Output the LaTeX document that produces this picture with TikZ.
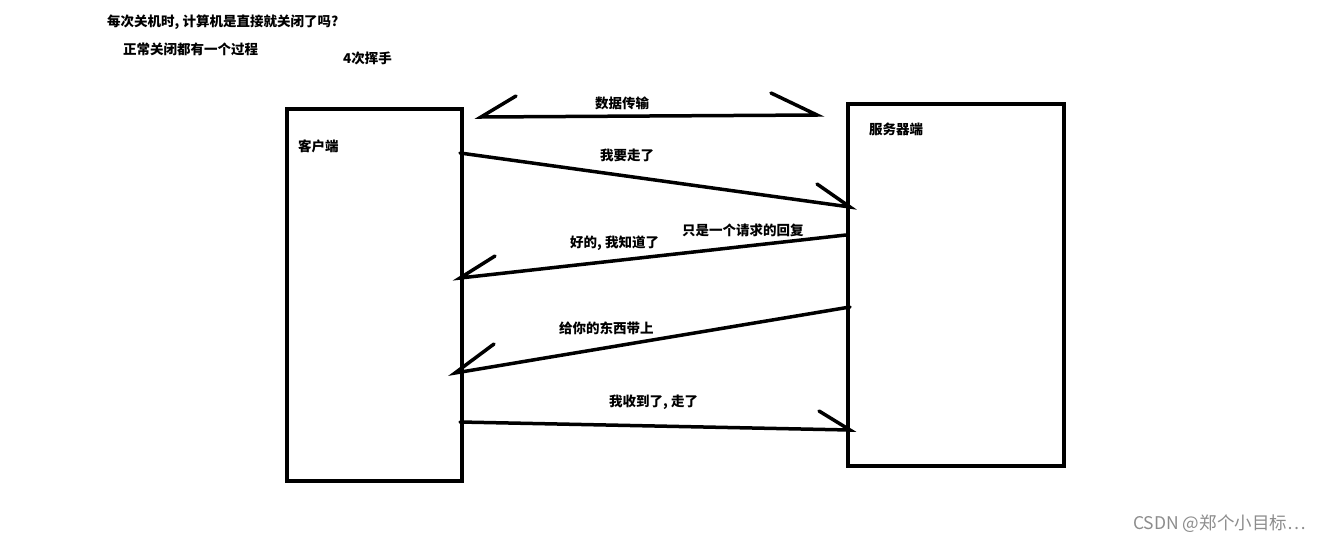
\documentclass[tikz,border=0pt]{standalone}
\usepackage{fontspec}
\newfontfamily\cjk{Noto Sans CJK SC}
\begin{document}
\begin{tikzpicture}[x=1pt,y=-1pt,
  box/.style={draw,line width=3.5pt},
  ln/.style={line width=3.5pt,line cap=round},
  lbl/.style={font=\cjk\bfseries\fontsize{13.5}{15}\selectfont,anchor=west,inner sep=0pt}]
\useasboundingbox (0,0) rectangle (1337,544);
\node[box,minimum width=175pt,minimum height=372pt,anchor=north west] (client) at (285,107) {};
\node[box,minimum width=216pt,minimum height=362pt,anchor=north west] (server) at (846,102) {};
\coordinate (d1) at (481,117); \coordinate (d2) at (817,115);
\coordinate (d1t) at (516,96); \coordinate (d2t) at (771,93);
\draw[ln] (d1t) -- (d1) -- (d2) -- (d2t);
\coordinate (a1s) at (460,153); \coordinate (a1e) at (850,207); \coordinate (a1t) at (817,184);
\draw[ln] (a1s) -- (a1e) -- (a1t);
\coordinate (a2s) at (846,235); \coordinate (a2e) at (460,278); \coordinate (a2t) at (495,256);
\draw[ln] (a2s) -- (a2e) -- (a2t);
\coordinate (a3s) at (850,307); \coordinate (a3e) at (455,373); \coordinate (a3t) at (494,344);
\draw[ln] (a3s) -- (a3e) -- (a3t);
\coordinate (a4s) at (460,422); \coordinate (a4e) at (850,430); \coordinate (a4t) at (819,411);
\draw[ln] (a4s) -- (a4e) -- (a4t);
\node[lbl] (t1) at (107,22) {每次关机时, 计算机是直接就关闭了吗?};
\node[lbl] (t2) at (123,49) {正常关闭都有一个过程};
\node[lbl] (t3) at (343,58) {4次挥手};
\node[lbl] (t4) at (595,103) {数据传输};
\node[lbl] (t5) at (298,146) {客户端};
\node[lbl] (t6) at (869,129) {服务器端};
\node[lbl] (t7) at (600,155) {我要走了};
\node[lbl] (t8) at (570,243) {好的, 我知道了};
\node[lbl] (t9) at (682,230) {只是一个请求的回复};
\node[lbl] (t10) at (559,328) {给你的东西带上};
\node[lbl] (t11) at (609,402) {我收到了, 走了};
\node[anchor=west,inner sep=0pt,text=black!45,font=\cjk\fontsize{17.5}{19}\selectfont] (wm) at (1133,524) {CSDN @郑个小目标⋯};
\end{tikzpicture}
\end{document}
